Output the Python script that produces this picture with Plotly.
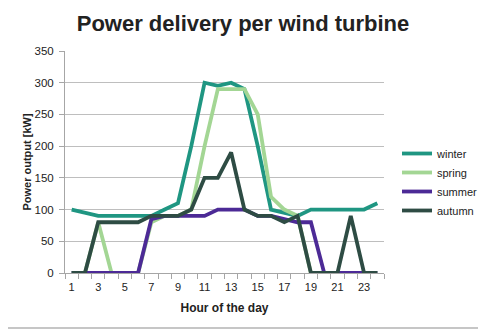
"""
Power delivery per wind turbine - line chart recreation
"""
import plotly.graph_objects as go

# hours of the day and power per season (kW)
hours = list(range(1, 25))
winter = [100, 95, 90, 90, 90, 90, 90, 100, 110, 200, 300, 295,
          300, 290, 200, 100, 95, 90, 100, 100, 100, 100, 100, 110]
spring = [0, 0, 80, 0, 0, 0, 80, 90, 90, 100, 200, 290,
          290, 290, 250, 120, 100, 90, 0, 0, 0, 0, 0, 0]
summer = [0, 0, 0, 0, 0, 0, 85, 90, 90, 90, 90, 100,
          100, 100, 90, 90, 85, 80, 80, 0, 0, 0, 0, 0]
autumn = [0, 0, 80, 80, 80, 80, 90, 90, 90, 100, 150, 150,
          190, 100, 90, 90, 80, 90, 0, 0, 0, 90, 0, 0]

series = [
    ("winter", winter, "rgb(31,150,130)"),
    ("spring", spring, "rgb(163,214,148)"),
    ("summer", summer, "rgb(76,42,150)"),
    ("autumn", autumn, "rgb(46,76,68)"),
]

# the page body keeps its default 8px margin, so the figure is sized to
# fill the rest of the window
OFF = 8
W, H = 486 - OFF, 330 - OFF
M = dict(l=65 - OFF, r=102, t=51 - OFF, b=57)
pw = W - M["l"] - M["r"]
ph = H - M["t"] - M["b"]

fig = go.Figure()
for name, vals, col in series:
    fig.add_trace(go.Scatter(
        x=hours, y=vals, mode="lines", name=name,
        line=dict(color=col, width=3.8),
    ))

font = "Liberation Sans, Arial, sans-serif"
fig.update_layout(
    width=W, height=H, margin=M,
    paper_bgcolor="white", plot_bgcolor="white",
    font=dict(family=font, size=11, color="#333333"),
    title=dict(text="<b>Power delivery per wind turbine</b>",
               x=(243 - OFF) / W, xref="container", xanchor="center",
               y=1 - (23 - OFF) / H, yref="container", yanchor="middle",
               font=dict(size=22, color="#222222")),
    showlegend=True,
    # legend placed in container coords so it doesn't shrink the plot area
    legend=dict(xref="container", yref="container",
                x=(397 - OFF) / W, xanchor="left",
                y=1 - (182 - OFF) / H, yanchor="middle",
                font=dict(size=11, color="#222222"),
                itemwidth=30, tracegroupgap=0, bgcolor="rgba(0,0,0,0)"),
    xaxis=dict(
        range=[0.5, 24.5], tick0=1, dtick=2, ticks="",
        showgrid=False, zeroline=False, automargin=False,
        showline=True, linecolor="#A6A6A6", linewidth=1,
        tickfont=dict(size=11, color="#222222"),
        ticklabelstandoff=4,
        minor=dict(tick0=0.5, dtick=1, ticks="outside", ticklen=5,
                   tickcolor="#A6A6A6", showgrid=False),
        title=dict(text="<b>Hour of the day</b>", font=dict(size=12, color="#222222"),
                   standoff=11),
    ),
    yaxis=dict(
        range=[0, 350], dtick=50, ticks="outside", ticklen=5,
        tickcolor="#A6A6A6", showline=True, linecolor="#A6A6A6", linewidth=1,
        showgrid=True, gridcolor="#BEBEBE", gridwidth=1, zeroline=False,
        automargin=False,
        tickfont=dict(size=11.5, color="#222222"),
        ticklabelstandoff=3,
        title=dict(text="<b>Power output [kW]</b>", font=dict(size=11, color="#222222"),
                   standoff=0),
    ),
)

# thin frame around the whole chart (page coords 2..484 x 2..328)
fig.add_shape(type="rect", xref="paper", yref="paper",
              x0=(2 - 65) / pw, x1=(484 - 65) / pw,
              y0=-(328 - 273) / ph, y1=1 + (51 - 2) / ph,
              line=dict(color="#B4B4B4", width=1.5), layer="above")

fig.write_html("out.html")
